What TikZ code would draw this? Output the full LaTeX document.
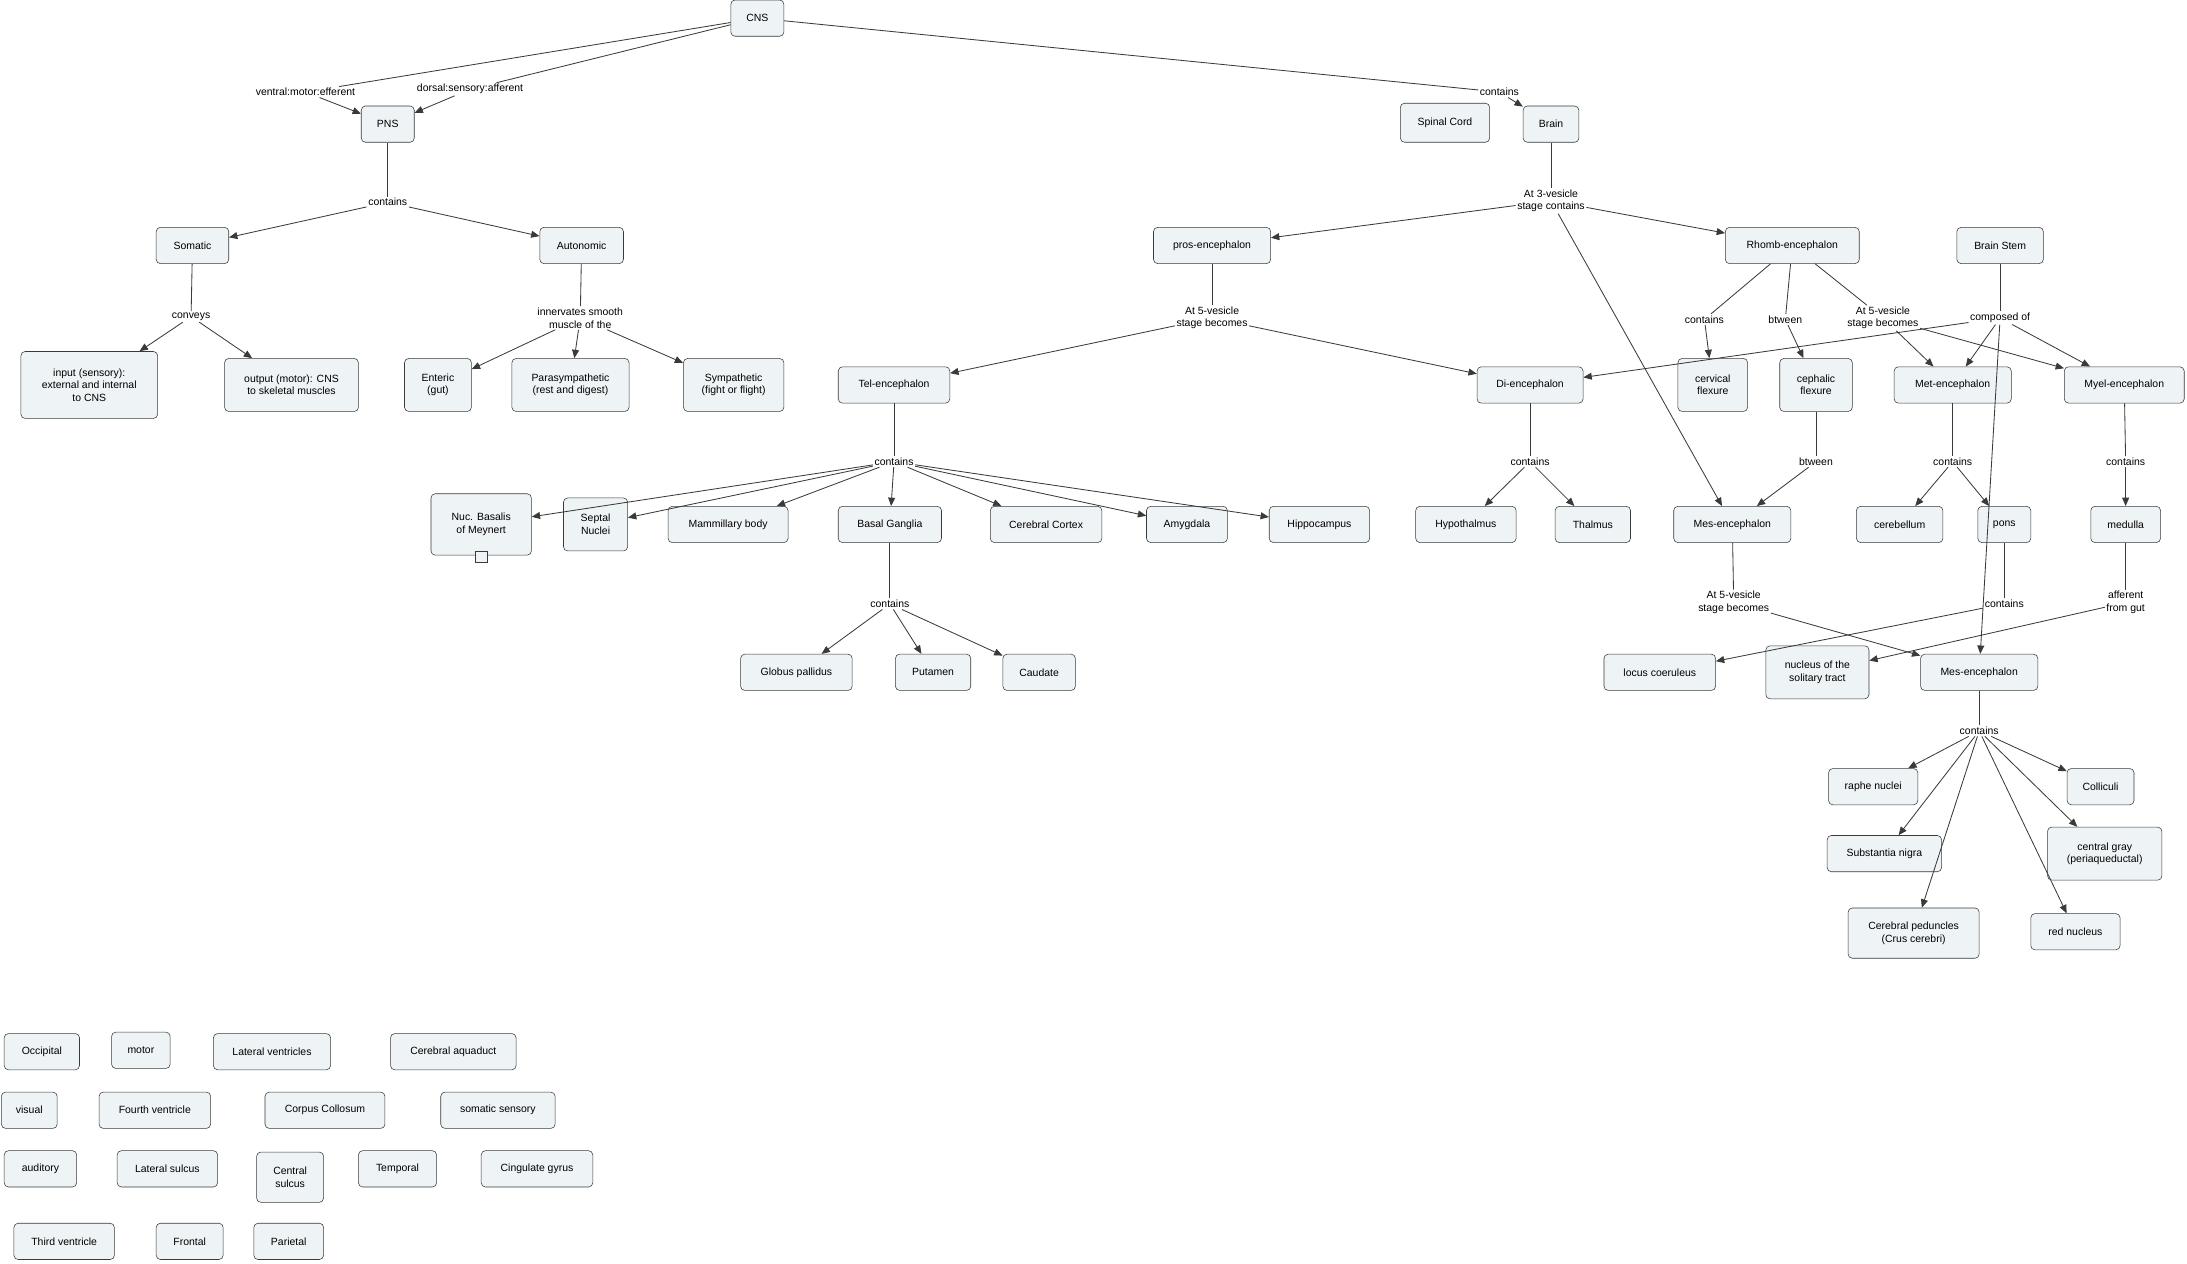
\documentclass[tikz,border=0pt]{standalone}
\usepackage{fontspec}
\setmainfont{Liberation Sans}
\usetikzlibrary{arrows.meta}
\definecolor{boxfill}{HTML}{EEF3F5}
\definecolor{boxline}{HTML}{3A3A3A}
\tikzset{
	concept/.style={draw=boxline, fill=boxfill, rounded corners=3pt, align=center, font=\fontsize{7.5}{9}\selectfont, minimum height=26pt, inner sep=2pt},
	lbl/.style={fill=white, align=center, font=\fontsize{7.5}{9}\selectfont, inner sep=1pt},
	link/.style={draw=boxline, line width=0.6pt},
	line/.style={link, -{Triangle[length=6pt, width=5pt]}}
}
\begin{document}
\begin{tikzpicture}[x=1pt, y=-1pt]
	\useasboundingbox (0,0) rectangle (1568,906);
	
	% Concepts
	\node[concept, minimum width=38pt] (cns) at (543,13) {CNS};
	\node[concept, minimum width=38pt] (pns) at (278,89) {PNS};
	\node[concept, minimum width=64pt, minimum height=28pt] (spinal) at (1036,88) {Spinal Cord};
	\node[concept, minimum width=40pt] (brain) at (1112,89) {Brain};
	\node[concept, minimum width=52pt] (somatic) at (138,176) {Somatic};
	\node[concept, minimum width=60pt] (auto) at (417,176) {Autonomic};
	\node[concept, minimum width=98pt, minimum height=48pt] (input) at (64,276) {input (sensory):\\external and internal\\to CNS};
	\node[concept, minimum width=96pt, minimum height=38pt] (output) at (209,276) {output (motor): CNS\\to skeletal muscles};
	\node[concept, minimum width=48pt, minimum height=38pt] (enteric) at (314,276) {Enteric\\(gut)};
	\node[concept, minimum width=84pt, minimum height=38pt] (para) at (409,276) {Parasympathetic\\(rest and digest)};
	\node[concept, minimum width=72pt, minimum height=38pt] (symp) at (526,276) {Sympathetic\\(fight or flight)};
	\node[concept, minimum width=84pt] (pros) at (869,176) {pros-encephalon};
	\node[concept, minimum width=96pt] (rhomb) at (1285,176) {Rhomb-encephalon};
	\node[concept, minimum width=62pt] (stem) at (1434,176) {Brain Stem};
	\node[concept, minimum width=80pt] (tel) at (641,276) {Tel-encephalon};
	\node[concept, minimum width=76pt] (di) at (1097,276) {Di-encephalon};
	\node[concept, minimum width=50pt, minimum height=38pt] (cerv) at (1228,276) {cervical\\flexure};
	\node[concept, minimum width=52pt, minimum height=38pt] (ceph) at (1302,276) {cephalic\\flexure};
	\node[concept, minimum width=84pt] (met) at (1400,276) {Met-encephalon};
	\node[concept, minimum width=86pt] (myel) at (1523,276) {Myel-encephalon};
	\node[concept, minimum width=72pt, minimum height=44pt] (nuc) at (345,376) {Nuc. Basalis\\of Meynert};
	\node[concept, minimum width=46pt, minimum height=38pt] (septal) at (427,376) {Septal\\Nuclei};
	\node[concept, minimum width=86pt] (mamm) at (522,376) {Mammillary body};
	\node[concept, minimum width=74pt] (basal) at (638,376) {Basal Ganglia};
	\node[concept, minimum width=80pt] (cortex) at (750,376) {Cerebral Cortex};
	\node[concept, minimum width=58pt] (amyg) at (851,376) {Amygdala};
	\node[concept, minimum width=72pt] (hippo) at (946,376) {Hippocampus};
	\node[concept, minimum width=72pt] (hypo) at (1051,376) {Hypothalmus};
	\node[concept, minimum width=54pt] (thal) at (1142,376) {Thalmus};
	\node[concept, minimum width=84pt] (mes) at (1242,376) {Mes-encephalon};
	\node[concept, minimum width=62pt] (cereb) at (1362,376) {cerebellum};
	\node[concept, minimum width=38pt] (pons) at (1437,376) {pons};
	\node[concept, minimum width=50pt] (medulla) at (1524,376) {medulla};
	\node[concept, minimum width=80pt] (globus) at (571,482) {Globus pallidus};
	\node[concept, minimum width=54pt] (putamen) at (669,482) {Putamen};
	\node[concept, minimum width=52pt] (caudate) at (745,482) {Caudate};
	\node[concept, minimum width=80pt] (locus) at (1190,482) {locus coeruleus};
	\node[concept, minimum width=74pt, minimum height=38pt] (solit) at (1303,482) {nucleus of the\\solitary tract};
	\node[concept, minimum width=84pt] (mesb) at (1419,482) {Mes-encephalon};
	\node[concept, minimum width=64pt] (raphe) at (1343,564) {raphe nuclei};
	\node[concept, minimum width=48pt] (coll) at (1506,564) {Colliculi};
	\node[concept, minimum width=82pt] (nigra) at (1351,612) {Substantia nigra};
	\node[concept, minimum width=82pt, minimum height=38pt] (gray) at (1509,612) {central gray\\(periaqueductal)};
	\node[concept, minimum width=94pt, minimum height=36pt] (ped) at (1372,669) {Cerebral peduncles\\(Crus cerebri)};
	\node[concept, minimum width=64pt] (red) at (1488,668) {red nucleus};
	% small image icon
	\node[draw=boxline, fill=boxfill, minimum size=8pt, inner sep=0pt] (icon) at (345,399) {};
	
	% Loose concepts
	\node[concept, minimum width=54pt] (occ) at (30,754) {Occipital};
	\node[concept, minimum width=42pt] (motor) at (101,753) {motor};
	\node[concept, minimum width=84pt] (latv) at (195,754) {Lateral ventricles};
	\node[concept, minimum width=90pt] (aqua) at (325,754) {Cerebral aquaduct};
	\node[concept, minimum width=40pt] (visual) at (21,796) {visual};
	\node[concept, minimum width=80pt] (fourth) at (111,796) {Fourth ventricle};
	\node[concept, minimum width=86pt] (corpus) at (233,796) {Corpus Collosum};
	\node[concept, minimum width=82pt] (somsens) at (357,796) {somatic sensory};
	\node[concept, minimum width=52pt] (aud) at (29,838) {auditory};
	\node[concept, minimum width=72pt] (lats) at (120,838) {Lateral sulcus};
	\node[concept, minimum width=48pt, minimum height=36pt] (cents) at (208,844) {Central\\sulcus};
	\node[concept, minimum width=56pt] (temp) at (285,838) {Temporal};
	\node[concept, minimum width=80pt] (cing) at (385,838) {Cingulate gyrus};
	\node[concept, minimum width=72pt] (third) at (46,890) {Third ventricle};
	\node[concept, minimum width=48pt] (front) at (136,890) {Frontal};
	\node[concept, minimum width=50pt] (pari) at (207,890) {Parietal};
	
	% Link labels
	\node[lbl] (lventral) at (219,66) {ventral:motor:efferent};
	\node[lbl] (ldorsal) at (337,64) {dorsal:sensory:afferent};
	\node[lbl] (lcnsc) at (1075,66) {contains};
	\node[lbl] (lpns) at (278,145) {contains};
	\node[lbl] (lconv) at (137,227) {conveys};
	\node[lbl] (linn) at (416,228) {innervates smooth\\muscle of the};
	\node[lbl] (lthree) at (1112,144) {At 3-vesicle\\stage contains};
	\node[lbl] (lpros) at (869,228) {At 5-vesicle\\stage becomes};
	\node[lbl] (lrhc) at (1222,229) {contains};
	\node[lbl] (lrhb) at (1280,229) {btween};
	\node[lbl] (lrh5) at (1350,228) {At 5-vesicle\\stage becomes};
	\node[lbl] (lstem) at (1434,228) {composed of};
	\node[lbl] (ltel) at (641,331) {contains};
	\node[lbl] (ldi) at (1097,331) {contains};
	\node[lbl] (lceph) at (1302,331) {btween};
	\node[lbl] (lmet) at (1400,331) {contains};
	\node[lbl] (lmyel) at (1524,331) {contains};
	\node[lbl] (lbasal) at (638,433) {contains};
	\node[lbl] (lmes) at (1243,432) {At 5-vesicle\\stage becomes};
	\node[lbl] (lpons) at (1437,433) {contains};
	\node[lbl] (lmed) at (1524,432) {afferent\\from gut};
	\node[lbl] (lmesb) at (1419,524) {contains};
	
	% Connectors
	\draw[link] (cns) -- (lventral); \draw[line] (lventral) -- (pns);
	\draw[link] (cns) -- (ldorsal); \draw[line] (ldorsal) -- (pns);
	\draw[link] (cns) -- (lcnsc); \draw[line] (lcnsc) -- (brain);
	\draw[link] (pns) -- (lpns);
	\foreach \t in {somatic, auto} \draw[line] (lpns) -- (\t);
	\draw[link] (somatic) -- (lconv);
	\foreach \t in {input, output} \draw[line] (lconv) -- (\t);
	\draw[link] (auto) -- (linn);
	\foreach \t in {enteric, para, symp} \draw[line] (linn) -- (\t);
	\draw[link] (brain) -- (lthree);
	\foreach \t in {pros, rhomb, mes} \draw[line] (lthree) -- (\t);
	\draw[link] (pros) -- (lpros);
	\foreach \t in {tel, di} \draw[line] (lpros) -- (\t);
	\draw[link] (rhomb) -- (lrhc); \draw[line] (lrhc) -- (cerv);
	\draw[link] (rhomb) -- (lrhb); \draw[line] (lrhb) -- (ceph);
	\draw[link] (rhomb) -- (lrh5);
	\foreach \t in {met, myel} \draw[line] (lrh5) -- (\t);
	\draw[link] (stem) -- (lstem);
	\foreach \t in {di, met, myel, mesb} \draw[line] (lstem) -- (\t);
	\draw[link] (tel) -- (ltel);
	\foreach \t in {nuc, septal, mamm, basal, cortex, amyg, hippo} \draw[line] (ltel) -- (\t);
	\draw[link] (di) -- (ldi);
	\foreach \t in {hypo, thal} \draw[line] (ldi) -- (\t);
	\draw[link] (ceph) -- (lceph); \draw[line] (lceph) -- (mes);
	\draw[link] (met) -- (lmet);
	\foreach \t in {cereb, pons} \draw[line] (lmet) -- (\t);
	\draw[link] (myel) -- (lmyel); \draw[line] (lmyel) -- (medulla);
	\draw[link] (basal) -- (lbasal);
	\foreach \t in {globus, putamen, caudate} \draw[line] (lbasal) -- (\t);
	\draw[link] (mes) -- (lmes); \draw[line] (lmes) -- (mesb);
	\draw[link] (pons) -- (lpons); \draw[line] (lpons) -- (locus);
	\draw[link] (medulla) -- (lmed); \draw[line] (lmed) -- (solit);
	\draw[link] (mesb) -- (lmesb);
	\foreach \t in {raphe, coll, nigra, gray, ped, red} \draw[line] (lmesb) -- (\t);
	
\end{tikzpicture}
\end{document}
